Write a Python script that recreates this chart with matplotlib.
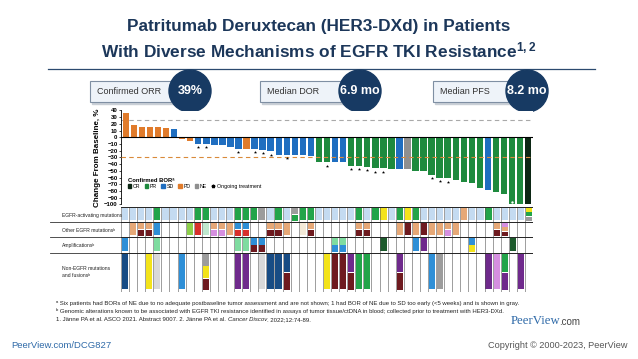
import matplotlib.pyplot as plt
from matplotlib.patches import Rectangle, Circle, Patch
from matplotlib.lines import Line2D

plt.rcParams['font.family'] = ['Liberation Sans', 'DejaVu Sans']
plt.rcParams['mathtext.default'] = 'regular'

# best % change from baseline, one bar per patient
change = [37, 18, 15, 15, 15, 14, 12, -2, -6, -10, -10, -11, -12, -14, -17, -17, -17,
          -19, -21, -26, -26, -26, -27, -28, -37, -37, -36, -36, -42, -42, -44, -46,
          -46, -47, -47, -47, -50, -50, -56, -60, -61, -63, -67, -68, -76, -79, -82,
          -84, -100, -100, -100]
bor = ['PD'] * 6 + ['SD'] + ['PD'] * 2 + ['SD'] * 6 + ['PD'] + ['SD'] * 8 + ['PR'] * 2 \
    + ['SD'] * 2 + ['PR'] * 6 + ['SD', 'NE'] + ['PR'] * 9 + ['SD'] + ['PR'] * 4 + ['CR']
ongoing = [9, 10, 14, 16, 17, 18, 20, 25, 28, 29, 30, 31, 32, 38, 39, 40]
ongoing_white = [48]

bor_colors = {'CR': '#0c2714', 'PR': '#1e8a3e', 'SD': '#1f6ec0', 'PD': '#e07b2b', 'NE': '#8f8f8f'}

# genomic alterations per patient (stacked colour codes, '.' = none)
row_labels = ['EGFR-activating mutations\u1d47', 'Other EGFR mutations\u1d47',
              'Amplifications\u1d47', 'Non-EGFR mutations\nand fusions\u1d47']
activating = ['b', 'b', 'b', 'b', 'g', 'b', 'b', 'b', 'b', 'g', 'g', 'b', 'b', 'b', 'g', 'g', 'g',
              'k', 'b', 'g', 'b', 'kg', 'g', 'g', 'b', 'b', 'b', 'b', 'b', 'g', 'b', 'g', 'y', 'b',
              'g', 'y', 'g', 'b', 'b', 'b', 'b', 'b', 'o', 'b', 'b', 'g', 'b', 'b', 'b', 'b', 'ygk']
other_egfr = ['.', 'o', 'or', 'or', 'B', '.', '.', '.', 'G', 'R', 'M', 'om', 'om', 'o', 'BR', 'BR',
              '.', '.', 'or', 'or', 'o', '.', 'c', 'or', '.', '.', '.', '.', '.', 'or', 'or', '.',
              '.', '.', 'o', 'r', 'o', 'r', 'o', 'o', 'om', 'o', '.', '.', '.', '.', 'or', 'mor',
              '.', '.', '.']
amplif = ['B', '.', '.', '.', 'L', '.', '.', '.', '.', '.', '.', '.', '.', '.', 'L', 'L', 'Br', 'Br',
          '.', '.', '.', '.', '.', '.', '.', '.', 'LB', 'LB', '.', '.', '.', '.', 'd', '.', '.',
          '.', 'B', 'p', '.', '.', '.', '.', '.', 'By', '.', '.', '.', '.', 'd', '.', '.']
non_egfr = ['N', '.', '.', 'y', 'e', '.', '.', 'B', '.', '.', 'kyr', '.', '.', '.', 'p', 'p', '.',
            'e', 'N', 'N', 'Nr', '.', '.', '.', '.', 'y', 'r', 'r', 'pr', 'g', 'g', '.', '.', '.',
            'pr', '.', '.', '.', 'B', 'k', '.', '.', '.', '.', '.', 'p', 'm', 'gp', '.', 'p', '.']
table_rows = [activating, other_egfr, amplif, non_egfr]

cell_colors = {'b': '#c4dbf1', 'g': '#22a449', 'k': '#9c9c9c', 'y': '#f3e31a', 'o': '#e6a877',
               'r': '#6e1a1f', 'B': '#2e8fd7', 'R': '#d8302c', 'G': '#8ccf4a', 'M': '#bfe8cf',
               'm': '#d58fe0', 'c': '#f3ead8', 'L': '#7fdca0', 'd': '#1c5a2c', 'N': '#184c84',
               'p': '#6f2a8c', 'e': '#d9d9d9'}

W, H = 638, 359
fig = plt.figure(figsize=(W / 100, H / 100), dpi=100)


def place(l, t, r, b):
    return [l / W, 1 - b / H, (r - l) / W, (b - t) / H]


navy = '#1c375a'

# ---- overlay for slide decorations
ov = fig.add_axes([0, 0, 1, 1])
ov.set_xlim(0, W)
ov.set_ylim(H, 0)
ov.axis('off')

ov.text(319, 27, 'Patritumab Deruxtecan (HER3-DXd) in Patients', ha='center', va='center',
        fontsize=12.4, fontweight='bold', color=navy)
ov.text(319, 50, 'With Diverse Mechanisms of EGFR TKI Resistance$^{1,2}$', ha='center',
        va='center', fontsize=12.4, fontweight='bold', color=navy)
ov.plot([48, 595], [69, 69], color='#2b4a6f', lw=0.9)

stats = [('Confirmed ORR', '39%', 90, 190), ('Median DOR', '6.9 mo', 260, 360),
         ('Median PFS', '8.2 mo', 433, 527)]
for label, val, x0, cx in stats:
    ov.add_patch(Rectangle((x0 + 1.5, 82.5), cx - x0, 21, color='#c9cfd6', zorder=1))
    ov.add_patch(Rectangle((x0, 81), cx - x0, 21, facecolor='#eef3f9', edgecolor='#7f8fa3',
                           lw=0.8, zorder=2))
    ov.text(x0 + 7, 92, label, ha='left', va='center', fontsize=6.5, color='#333333', zorder=3)
    ov.add_patch(Circle((cx, 91), 21, color='#173a63', zorder=4))
    ov.text(cx, 91, val, ha='center', va='center', fontsize=9, fontweight='bold',
            color='white', zorder=5)

# table row labels and separators
label_y = [215, 230, 245, 272]
for lab, y in zip(row_labels, label_y):
    ov.text(62, y, lab, ha='left', va='center', fontsize=3.6, color='#222222', linespacing=1.4)
for y in [222, 237, 253]:
    ov.plot([50, 121], [y, y], color='#333333', lw=0.6)

# footnotes
fn = 4.3
notes = ['\u1d43 Six patients had BORs of NE due to no adequate postbaseline tumor assessment and are not '
         'shown; 1 had BOR of NE due to SD too early (<5 weeks) and is shown in gray.',
         '\u1d47 Genomic alterations known to be associated with EGFR TKI resistance identified in assays of '
         'tumor tissue/ctDNA in blood; collected prior to treatment with HER3-DXd.']
for i, n in enumerate(notes):
    ov.text(56, 304 + i * 7.5, n, ha='left', va='center', fontsize=fn, color='#222222')

# reference line with italic journal name, pieces placed one after another
renderer = fig.canvas.get_renderer()
xpos = 56
for piece, style in [('1. J\u00e4nne PA et al. ASCO 2021. Abstract 9007. 2. J\u00e4nne PA et al.\u00a0', 'normal'),
                     ('Cancer Discov', 'italic'), ('. 2022;12:74-89.', 'normal')]:
    t = ov.text(xpos, 319.5, piece, ha='left', va='center', fontsize=fn, color='#222222',
                style=style)
    bb = t.get_window_extent(renderer)
    xpos += bb.width * W / fig.bbox.width

ov.text(511, 321, 'PeerView', ha='left', va='center', fontsize=9.2, color='#2f6aa8',
        family='Liberation Serif')
ov.text(559, 322, '.com', ha='left', va='center', fontsize=7, color='#444444')
ov.text(11, 346, 'PeerView.com/DCG827', ha='left', va='center', fontsize=6.8, color='#2f6aa8')
ov.text(627, 346, 'Copyright \u00a9 2000-2023, PeerView', ha='right', va='center',
        fontsize=6.6, color='#555555')

# ---- waterfall
ax = fig.add_axes(place(121, 110.5, 533, 204.5))
x = list(range(len(change)))
ax.bar(x, change, width=0.8, color=[bor_colors[b] for b in bor], zorder=2)
ax.axhline(0, color='black', lw=0.8, zorder=3)
ax.axhline(26, color='#a9a9a9', lw=0.8, ls=(0, (4, 3)), zorder=1)
ax.axhline(-30, color='#d98a3a', lw=0.8, ls=(0, (4, 3)), zorder=3)
ax.scatter([i for i in ongoing], [change[i] - 5 for i in ongoing], marker='*', s=6,
           color='black', zorder=4, linewidths=0)
ax.scatter(ongoing_white, [change[i] + 4 for i in ongoing_white], marker='o', s=3,
           color='white', zorder=4, linewidths=0)
ax.set_xlim(-0.6, len(change) - 0.4)
ax.set_ylim(-100, 40)
ax.set_yticks(range(-100, 41, 10))
ax.tick_params(axis='y', labelsize=4.3, length=1.5, width=0.5, pad=1)
for t in ax.get_yticklabels():
    t.set_fontweight('bold')
ax.set_xticks([])
for s in ['top', 'right', 'bottom']:
    ax.spines[s].set_visible(False)
ax.spines['left'].set_linewidth(0.6)
ax.set_ylabel('Change From Baseline, %', fontsize=5.8, fontweight='bold', labelpad=2)

handles = [Patch(color=bor_colors[k], label=k) for k in ['CR', 'PR', 'SD', 'PD', 'NE']]
handles.append(Line2D([], [], marker='*', color='black', lw=0, markersize=2.5,
                      label='Ongoing treatment'))
leg = ax.legend(handles=handles, title='Confirmed BOR\u1d43', ncol=6, loc='upper left',
                bbox_to_anchor=(0.01, 0.31), frameon=False, fontsize=3.8,
                title_fontproperties={'size': 4.2, 'weight': 'bold'},
                handlelength=0.7, handleheight=0.7, handletextpad=0.3, columnspacing=0.8,
                borderpad=0, labelspacing=0.2)
leg._legend_box.align = 'left'

# ---- alteration table
tb = fig.add_axes(place(121, 207, 533, 292))
edges = [0, 15, 30, 46, 85]
n = len(change)
tb.set_xlim(-0.5, n - 0.5)
tb.set_ylim(85, 0)
tb.axis('off')
for r, row in enumerate(table_rows):
    y0, y1 = edges[r], edges[r + 1]
    for k, code in enumerate(row):
        if code == '.':
            continue
        h = (y1 - y0 - 2) / len(code)
        for j, c in enumerate(code):
            tb.add_patch(Rectangle((k - 0.38, y0 + 1 + j * h), 0.76, h * 0.95,
                                   color=cell_colors[c], lw=0))
for k in range(n + 1):
    tb.plot([k - 0.5, k - 0.5], [0, 85], color='#555555', lw=0.4)
for y in edges:
    tb.plot([-0.5, n - 0.5], [y, y], color='#222222', lw=0.7)

fig.savefig('out.png', dpi=100)
